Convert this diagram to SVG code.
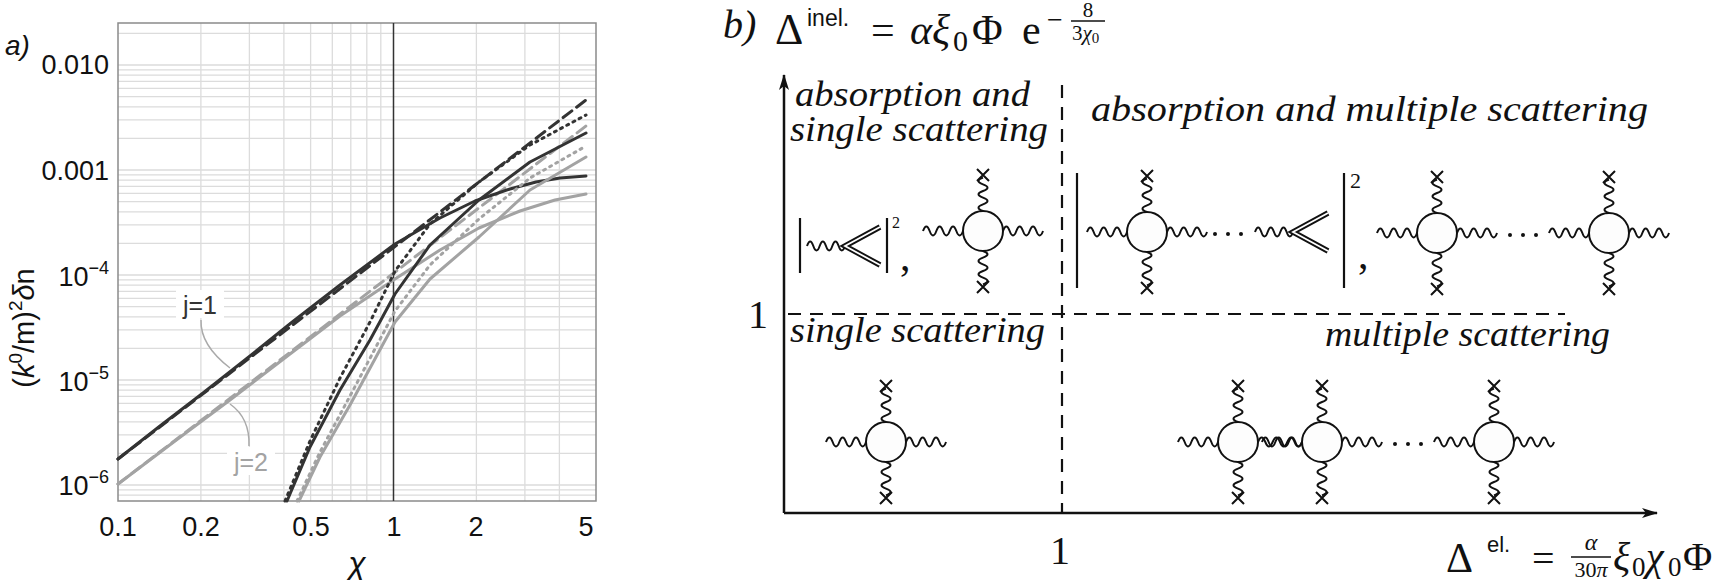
<svg xmlns="http://www.w3.org/2000/svg" xmlns:xlink="http://www.w3.org/1999/xlink" width="1725" height="580" viewBox="0 0 1725 580">
<style>
.g{stroke:#dcdcdc;stroke-width:1.3;fill:none}
.tk{font-family:"Liberation Sans",Arial,sans-serif;font-size:27px;fill:#111}
.c{fill:none;stroke-width:3;stroke-linejoin:round;stroke-linecap:round}
.d{stroke:#333}.l{stroke:#a3a3a3}
.it{font-family:"Liberation Serif","Times New Roman",serif;font-style:italic;font-size:36px;fill:#111}
.rm{font-family:"Liberation Serif","Times New Roman",serif;font-size:42px;fill:#111}
.sf{font-family:"Liberation Sans",Arial,sans-serif;fill:#111}
.w{fill:none;stroke:#111;stroke-width:2}
.ax{stroke:#111;stroke-width:2.5;fill:none}
.dash{stroke:#111;stroke-width:2.2;stroke-dasharray:13,9;fill:none}
</style>
<defs>
<marker id="arr" viewBox="0 0 16 10" refX="15" refY="5" markerWidth="16" markerHeight="10" markerUnits="userSpaceOnUse" orient="auto"><path d="M0,0 L16,5 L0,10 L4,5 Z" fill="#111"/></marker>
<g id="core">
<circle r="20" class="w" style="fill:#fdfdfd"/>
<path class="w" d="M0,-20 q-9,-3.33 0,-6.67 t0,-6.67 t0,-6.67 t0,-6.67 t0,-6.67"/>
<path class="w" d="M0,20 q9,3.33 0,6.67 t0,6.67 t0,6.67 t0,6.67 t0,6.67"/>
<path class="w" d="M-6,-62 l12,12 M6,-62 l-12,12 M-6,50 l12,12 M6,50 l-12,12"/>
</g>
<path id="wr" class="w" d="M20,0 q3.33,-9 6.67,0 t6.67,0 t6.67,0 t6.67,0 t6.67,0 t6.67,0"/>
<path id="wl" class="w" d="M-60,0 q3.33,-9 6.67,0 t6.67,0 t6.67,0 t6.67,0 t6.67,0 t6.67,0"/>
<g id="loop"><use href="#core" xlink:href="#core"/><use href="#wr" xlink:href="#wr"/><use href="#wl" xlink:href="#wl"/></g>
<g id="abs">
<path class="w" d="M-38,0 q3.17,-9 6.33,0 t6.33,0 t6.33,0 t6.33,0 t6.33,0 t6.33,0"/>
<path d="M35,-19 L0,0 L35,19" fill="none" stroke="#111" stroke-width="5.5"/>
<path d="M35,-19 L0,0 L35,19" fill="none" stroke="#fff" stroke-width="1.8"/>
</g>
<g id="dots"><circle cx="0" r="2" fill="#111"/><circle cx="13" r="2" fill="#111"/><circle cx="26" r="2" fill="#111"/></g>
</defs>

<g id="plot-a">
<text x="5" y="55" class="sf" font-size="28" font-style="italic">a)</text>
<g id="grid">
<path class="g" d="M200.9,23V501M249.4,23V501M283.9,23V501M310.6,23V501M332.3,23V501M350.8,23V501M366.8,23V501M380.8,23V501M476.4,23V501M524.9,23V501M559.4,23V501"/>
<path class="g" d="M118,495.2H596M118,489.8H596M118,485H596M118,453.4H596M118,434.9H596M118,421.8H596M118,411.6H596M118,403.3H596M118,396.3H596M118,390.2H596M118,384.8H596M118,380H596M118,348.4H596M118,329.9H596M118,316.8H596M118,306.6H596M118,298.3H596M118,291.3H596M118,285.2H596M118,279.8H596M118,275H596M118,243.4H596M118,224.9H596M118,211.8H596M118,201.6H596M118,193.3H596M118,186.3H596M118,180.2H596M118,174.8H596M118,170H596M118,138.4H596M118,119.9H596M118,106.8H596M118,96.6H596M118,88.3H596M118,81.3H596M118,75.2H596M118,69.8H596M118,65H596M118,33.4H596"/>
</g>
<rect x="118" y="23" width="478" height="478" fill="none" stroke="#8a8a8a" stroke-width="1.5"/>
<line x1="393.5" y1="23" x2="393.5" y2="501" stroke="#333" stroke-width="1.5"/>
<g id="yticks" text-anchor="end">
<text x="109" y="74" class="tk">0.010</text>
<text x="109" y="180" class="tk">0.001</text>
<text x="109" y="286" class="tk">10<tspan font-size="18" dy="-12">−4</tspan></text>
<text x="109" y="391" class="tk">10<tspan font-size="18" dy="-12">−5</tspan></text>
<text x="109" y="495" class="tk">10<tspan font-size="18" dy="-12">−6</tspan></text>
</g>
<g id="xticks" text-anchor="middle">
<text x="118" y="536" class="tk">0.1</text>
<text x="201" y="536" class="tk">0.2</text>
<text x="311" y="536" class="tk">0.5</text>
<text x="394" y="536" class="tk">1</text>
<text x="476" y="536" class="tk">2</text>
<text x="586" y="536" class="tk">5</text>
</g>
<text x="357" y="574" class="tk" style="font-style:italic;font-size:32px" text-anchor="middle">χ</text>
<text transform="translate(34,328) rotate(-90)" class="tk" style="font-size:29px" text-anchor="middle">(<tspan font-style="italic">k</tspan><tspan font-size="19" dy="-12">0</tspan><tspan dy="12">/m)</tspan><tspan font-size="19" dy="-12">2</tspan><tspan dy="12" font-style="italic">δ</tspan>n</text>
<g id="curves">
<path class="c l" stroke-dasharray="11,6" d="M118,484 L586,126"/>
<path class="c d" stroke-dasharray="11,6" d="M118,459 L586,100"/>
<polyline class="c l" points="118,484 175,441 230,400 290,354 340,316 395,279 440,250 479,228 520,211 555,200 586,194"/>
<polyline class="c d" points="118,459 160,426 203,393 250,356 291,323 340,285 395,244 440,218 475,201 510,189 536,182 560,178 586,176"/>
<polyline class="c l" stroke-dasharray="2,5" points="297,501 320,452 350,396 395,311 430,265 479,219 530,178 586,146"/>
<polyline class="c l" points="299,501 320,457 350,405 395,322 430,279 479,237 530,190 586,157"/>
<polyline class="c d" stroke-dasharray="2,5" points="285,501 310,441 340,378 370,322 395,271 430,224 479,182 530,145 586,115"/>
<polyline class="c d" points="287,501 310,447 340,390 370,340 395,294 430,245 479,200 530,162 586,133"/>
</g>
<path d="M201,320 Q200,345 230,368" fill="none" stroke="#aaa" stroke-width="1.5"/>
<path d="M249,446 Q250,418 230,404" fill="none" stroke="#aaa" stroke-width="1.5"/>
<rect x="176" y="290" width="48" height="28" fill="#fff"/>
<text x="200" y="314" class="tk" style="font-size:25px;fill:#333" text-anchor="middle">j=1</text>
<rect x="227" y="447" width="48" height="28" fill="#fff"/>
<text x="251" y="471" class="tk" style="font-size:25px;fill:#a3a3a3" text-anchor="middle">j=2</text>
</g>

<g id="panel-b">
<text x="723" y="38" class="rm" style="font-style:italic;font-size:40px">b)</text>
<text x="775" y="44" class="rm" style="font-size:44px">Δ</text>
<text x="807" y="26" class="sf" font-size="23">inel.</text>
<text x="871" y="44" class="rm">=</text>
<text x="910" y="44" class="rm" style="font-style:italic">αξ</text>
<text x="953" y="51" class="rm" style="font-size:30px">0</text>
<text x="972" y="44" class="rm">Φ</text>
<text x="1022" y="44" class="rm">e</text>
<text x="1047" y="29" class="rm" style="font-size:28px">−</text>
<text x="1088" y="17" class="rm" style="font-size:21px" text-anchor="middle">8</text>
<line x1="1071" y1="21" x2="1105" y2="21" stroke="#111" stroke-width="1.3"/>
<text x="1072" y="40" class="rm" style="font-size:21px">3<tspan font-style="italic">χ</tspan><tspan font-size="15" dy="3">0</tspan></text>

<g id="connectors">
<line x1="784" y1="513" x2="784" y2="75" class="ax" marker-end="url(#arr)"/>
<line x1="784" y1="513" x2="1657" y2="513" class="ax" marker-end="url(#arr)"/>
<line x1="1062" y1="85" x2="1062" y2="513" class="dash"/>
<line x1="788" y1="314" x2="1565" y2="314" class="dash"/>
</g>
<text x="758" y="328" class="rm" style="font-size:40px" text-anchor="middle">1</text>
<text x="1060" y="564" class="rm" style="font-size:40px" text-anchor="middle">1</text>
<text x="1446" y="572" class="rm">Δ</text>
<text x="1487" y="552" class="sf" font-size="22">el.</text>
<text x="1532" y="572" class="rm" style="font-size:40px">=</text>
<text x="1591" y="550" class="rm" style="font-size:24px;font-style:italic" text-anchor="middle">α</text>
<line x1="1571" y1="557" x2="1611" y2="557" stroke="#111" stroke-width="1.3"/>
<text x="1591" y="577" class="rm" style="font-size:22px" text-anchor="middle">30<tspan font-style="italic">π</tspan></text>
<text x="1613" y="570" class="rm" style="font-size:40px;font-style:italic">ξ</text>
<text x="1632" y="576" class="rm" style="font-size:27px">0</text>
<text x="1646" y="570" class="rm" style="font-size:40px;font-style:italic">χ</text>
<text x="1668" y="576" class="rm" style="font-size:27px">0</text>
<text x="1683" y="570" class="rm" style="font-size:40px">Φ</text>

<text x="795" y="106" class="it" textLength="235" lengthAdjust="spacingAndGlyphs">absorption and</text>
<text x="790" y="141" class="it" textLength="258" lengthAdjust="spacingAndGlyphs">single scattering</text>
<text x="1091" y="121" class="it" textLength="557" lengthAdjust="spacingAndGlyphs">absorption and multiple scattering</text>
<text x="790" y="342" class="it" textLength="255" lengthAdjust="spacingAndGlyphs">single scattering</text>
<text x="1325" y="346" class="it" textLength="285" lengthAdjust="spacingAndGlyphs">multiple scattering</text>

<g id="top-left">
<line x1="800" y1="218" x2="800" y2="273" stroke="#111" stroke-width="2.2"/>
<use href="#abs" xlink:href="#abs" x="845" y="246"/>
<line x1="887" y1="218" x2="887" y2="273" stroke="#111" stroke-width="2.2"/>
<text x="892" y="228" class="rm" style="font-size:16px">2</text>
<text x="900" y="270" class="rm">,</text>
<use href="#loop" xlink:href="#loop" x="983" y="231"/>
</g>
<g id="top-right">
<line x1="1077" y1="173" x2="1077" y2="288" stroke="#111" stroke-width="2.2"/>
<use href="#loop" xlink:href="#loop" x="1147" y="232"/>
<use href="#dots" xlink:href="#dots" x="1215" y="234"/>
<use href="#abs" xlink:href="#abs" x="1293" y="232"/>
<line x1="1344" y1="173" x2="1344" y2="288" stroke="#111" stroke-width="2.2"/>
<text x="1350" y="188" class="rm" style="font-size:22px">2</text>
<text x="1358" y="268" class="rm">,</text>
<use href="#loop" xlink:href="#loop" x="1437" y="233"/>
<use href="#dots" xlink:href="#dots" x="1510" y="235"/>
<use href="#loop" xlink:href="#loop" x="1609" y="233"/>
</g>
<g id="bottom-left">
<use href="#loop" xlink:href="#loop" x="886" y="442"/>
</g>
<g id="bottom-right">
<use href="#core" xlink:href="#core" x="1238" y="442"/>
<use href="#wl" xlink:href="#wl" x="1238" y="442"/>
<path class="w" d="M1258,442 q3.67,-9 7.33,0 t7.33,0 t7.33,0 t7.33,0 t7.33,0 t7.33,0"/>
<use href="#loop" xlink:href="#loop" x="1322" y="442"/>
<use href="#dots" xlink:href="#dots" x="1395" y="444"/>
<use href="#loop" xlink:href="#loop" x="1494" y="442"/>
</g>
</g>
</svg>
